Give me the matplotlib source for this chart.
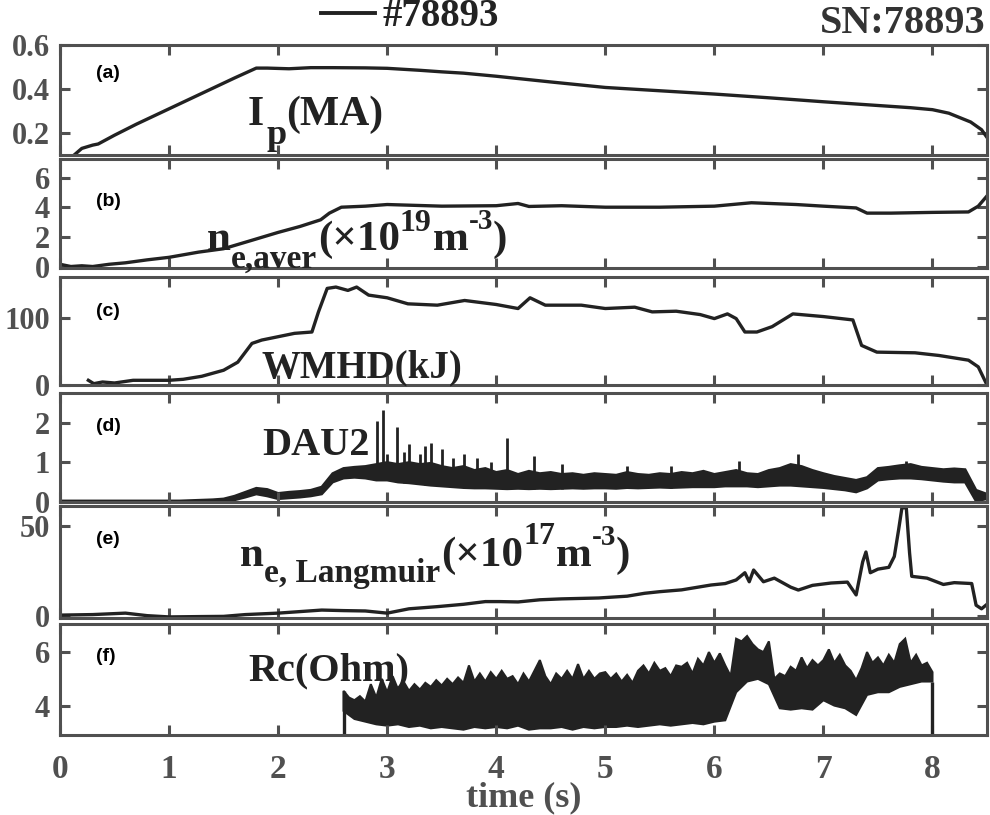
import numpy as np
import matplotlib.pyplot as plt
from matplotlib.lines import Line2D

plt.rcParams['font.family'] = ['Liberation Serif', 'DejaVu Serif']
plt.rcParams['font.weight'] = 'bold'

# (a) plasma current
t_ip = [0.13, 0.2, 0.3, 0.35, 0.5, 0.7, 1.0, 1.3, 1.6, 1.8, 1.9, 2.1, 2.3, 2.5, 2.8, 3.0,
        3.3, 3.5, 3.7, 4.0, 4.5, 5.0, 5.5, 6.0, 6.5, 7.0, 7.5, 7.8, 8.0, 8.15, 8.35, 8.45, 8.5]
ip = [0.10, 0.13, 0.145, 0.15, 0.19, 0.24, 0.31, 0.38, 0.45, 0.495, 0.495, 0.492, 0.497, 0.497,
      0.496, 0.494, 0.485, 0.478, 0.472, 0.458, 0.432, 0.407, 0.392, 0.377, 0.36, 0.342, 0.325,
      0.315, 0.306, 0.29, 0.25, 0.215, 0.18]

# (b) line averaged density
t_ne = [0.0, 0.1, 0.2, 0.3, 0.45, 0.6, 0.8, 1.0, 1.27, 1.5, 1.76, 2.0, 2.2, 2.39, 2.47, 2.58,
        2.8, 3.0, 3.5, 4.0, 4.2, 4.3, 4.6, 5.0, 5.5, 6.0, 6.34, 6.75, 7.0, 7.3, 7.4, 7.62, 8.0,
        8.33, 8.42, 8.5]
ne = [0.15, 0.0, 0.05, 0.0, 0.15, 0.25, 0.45, 0.62, 0.97, 1.2, 1.77, 2.3, 2.7, 3.15, 3.6, 4.0,
      4.07, 4.18, 4.07, 4.1, 4.25, 4.05, 4.1, 4.0, 4.0, 4.07, 4.3, 4.18, 4.07, 3.95, 3.6, 3.6,
      3.65, 3.68, 4.07, 4.76]

# (c) stored energy
t_w = [0.26, 0.31, 0.39, 0.5, 0.67, 1.0, 1.13, 1.3, 1.5, 1.63, 1.76, 1.85, 2.0, 2.15, 2.31, 2.37,
       2.45, 2.53, 2.64, 2.72, 2.83, 3.0, 3.19, 3.46, 3.71, 4.0, 4.2, 4.31, 4.45, 4.78, 5.0, 5.27,
       5.43, 5.65, 5.87, 6.0, 6.12, 6.2, 6.28, 6.39, 6.53, 6.72, 7.0, 7.27, 7.35, 7.49, 7.84, 8.06,
       8.33, 8.42, 8.5]
wmhd = [7, 2, 4.5, 3, 7, 7, 8.5, 13, 22, 34, 62, 67, 72, 77, 79, 109, 144, 146, 141, 146, 134,
        130, 121, 119, 126, 120, 114, 130, 119, 119, 114, 116, 109, 110, 105, 99, 106, 99, 79, 79,
        87, 106, 102, 97, 59, 49, 48, 44, 37, 27, 0]

# (d) DAU2, band envelopes on a 0.1 s grid plus spikes
dau_up = [0.03, 0.03, 0.03, 0.03, 0.03, 0.03, 0.03, 0.03, 0.03, 0.03, 0.03, 0.03, 0.04, 0.05,
          0.06, 0.08, 0.15, 0.25, 0.35, 0.32, 0.22, 0.25, 0.27, 0.3, 0.38, 0.72, 0.85, 0.88, 0.9,
          0.95, 1.0, 0.95, 1.0, 0.95, 0.98, 0.9, 0.85, 0.9, 0.8, 0.85, 0.75, 0.8, 0.7, 0.78, 0.72,
          0.75, 0.7, 0.72, 0.68, 0.72, 0.7, 0.68, 0.75, 0.7, 0.68, 0.72, 0.7, 0.75, 0.72, 0.78,
          0.7, 0.75, 0.8, 0.72, 0.7, 0.8, 0.85, 0.95, 0.9, 0.8, 0.72, 0.65, 0.6, 0.55, 0.62, 0.85,
          0.88, 0.92, 0.95, 0.88, 0.85, 0.82, 0.84, 0.82, 0.3, 0.2]
dau_low = [0.0, 0.0, 0.0, 0.0, 0.0, 0.0, 0.0, 0.0, 0.0, 0.0, 0.0, 0.0, 0.0, 0.0, 0.01, 0.02,
           0.05, 0.12, 0.2, 0.15, 0.08, 0.1, 0.12, 0.15, 0.2, 0.5, 0.6, 0.62, 0.6, 0.55, 0.55,
           0.5, 0.48, 0.45, 0.42, 0.4, 0.38, 0.36, 0.35, 0.35, 0.34, 0.33, 0.34, 0.33, 0.34, 0.33,
           0.34, 0.35, 0.34, 0.35, 0.35, 0.34, 0.36, 0.35, 0.36, 0.37, 0.36, 0.37, 0.38, 0.38,
           0.38, 0.4, 0.4, 0.4, 0.38, 0.4, 0.42, 0.42, 0.4, 0.38, 0.36, 0.33, 0.3, 0.25, 0.35,
           0.55, 0.58, 0.6, 0.6, 0.58, 0.55, 0.52, 0.5, 0.5, 0.02, 0.08]
dau_spike_t = [2.91, 2.96, 3.0, 3.09, 3.15, 3.2, 3.3, 3.35, 3.4, 3.5, 3.6, 3.7, 3.82, 3.95, 4.1,
               4.35, 4.6, 5.2, 5.6, 6.23, 6.77, 7.76]
dau_spike_v = [2.04, 2.33, 1.2, 1.88, 1.25, 1.46, 1.2, 1.42, 1.5, 1.33, 1.1, 1.2, 1.12, 1.0, 1.62,
               1.17, 0.96, 0.92, 0.9, 1.04, 1.2, 1.03]

# (e) Langmuir probe density
t_nl = [0.0, 0.3, 0.6, 0.8, 1.0, 1.3, 1.5, 1.7, 2.0, 2.4, 2.6, 2.8, 3.0, 3.2, 3.46, 3.7, 3.9,
        4.03, 4.2, 4.4, 4.6, 4.94, 5.2, 5.36, 5.5, 5.7, 5.97, 6.1, 6.2, 6.28, 6.32, 6.36, 6.45,
        6.55, 6.7, 6.77, 6.9, 7.07, 7.22, 7.3, 7.36, 7.39, 7.43, 7.5, 7.6, 7.65, 7.69, 7.72, 7.76,
        7.79, 7.81, 7.95, 8.1, 8.2, 8.36, 8.4, 8.45, 8.5]
nl = [0.5, 0.8, 1.6, 0.2, -0.5, -0.3, -0.2, 0.8, 1.6, 3.3, 3.0, 2.8, 1.6, 4.0, 5.2, 6.5, 8.0,
      8.0, 7.8, 9.0, 9.5, 10.0, 11.0, 12.6, 13.5, 14.5, 17.2, 18.0, 20.0, 24.0, 19.0, 25.5, 19.0,
      21.0, 16.0, 14.4, 17.0, 18.3, 18.8, 11.7, 30.0, 35.5, 24.0, 26.0, 27.0, 33.0, 48.0, 60.0,
      60.0, 35.0, 22.0, 21.0, 17.5, 18.5, 18.0, 6.0, 4.0, 6.5]

# (f) Rc, band envelopes: upper on 0.05 s grid, lower on 0.1 s grid
rc_t_on, rc_t_off, rc_floor = 2.6, 8.0, 2.9
rc_up = [4.55, 4.3, 4.2, 4.35, 4.15, 4.8, 4.3, 5.0, 4.5, 5.1, 4.6, 4.9, 4.55, 4.8, 4.6, 4.85,
         4.7, 4.95, 4.75, 5.0, 4.8, 5.05, 4.85, 5.5, 4.9, 5.2, 4.9, 5.25, 5.0, 5.3, 5.0, 5.1, 4.8,
         5.2, 4.9, 5.3, 5.7, 5.1, 4.8, 5.2, 5.0, 5.3, 5.0, 5.55, 5.0, 5.3, 5.0, 5.2, 5.25, 5.0,
         5.2, 4.9, 5.15, 4.85, 5.3, 5.5, 5.2, 5.6, 5.3, 5.4, 5.1, 5.5, 5.45, 5.6, 5.2, 5.75, 5.5,
         6.0, 5.6, 5.95, 5.5, 5.1, 6.5, 6.4, 6.6, 6.3, 6.1, 6.0, 6.4, 5.0, 5.2, 5.1, 5.45, 5.3,
         5.8, 5.4, 5.7, 5.5, 5.7, 6.1, 5.6, 5.9, 5.5, 5.3, 4.95, 5.4, 6.0, 5.6, 5.8, 5.5, 5.9,
         5.6, 6.3, 6.5, 5.6, 5.9, 5.5, 5.6, 5.25]
rc_low = [3.8, 3.5, 3.4, 3.3, 3.25, 3.3, 3.2, 3.25, 3.15, 3.2, 3.15, 3.1, 3.2, 3.15, 3.2, 3.15,
          3.25, 3.1, 3.15, 3.15, 3.2, 3.1, 3.2, 3.15, 3.2, 3.2, 3.25, 3.2, 3.25, 3.3, 3.25, 3.3,
          3.35, 3.3, 3.4, 3.45, 4.5, 4.9, 5.0, 4.8, 3.9, 3.85, 3.9, 3.85, 4.2, 4.0, 3.9, 3.65,
          4.4, 4.5, 4.5, 4.7, 4.8, 4.9, 4.9]

LC = '#222222'
GRAY = '#505050'
W, H = 990, 815

fig = plt.figure(figsize=(W / 100, H / 100), dpi=100)

# axes boxes in pixels: (top, bottom)
boxes = [(45, 155), (159, 268), (277, 385), (393, 502), (506, 618), (624, 735)]
ylims = [(0.1, 0.6), (-0.1, 7.25), (0, 161), (0, 2.75), (-1.1, 61), (2.9, 7.05)]
yticks = [[0.2, 0.4, 0.6], [0, 2, 4, 6], [0, 100], [0, 1, 2], [0, 50], [4, 6]]
yticklabels = [['0.2', '0.4', '0.6'], None, None, None, None, None]

axes = []
for i, (top, bot) in enumerate(boxes):
    ax = fig.add_axes([60 / W, 1 - bot / H, 927 / W, (bot - top) / H])
    ax.set_xlim(0, 8.5)
    ax.set_ylim(*ylims[i])
    ax.set_xticks(range(0, 9))
    ax.set_yticks(yticks[i])
    if yticklabels[i]:
        ax.set_yticklabels(yticklabels[i])
    ax.tick_params(direction='in', length=7, width=2.2, top=True, right=True,
                   colors=GRAY, labelsize=22, pad=7)
    ax.tick_params(axis='x', labelsize=24, pad=14)
    if i < 5:
        ax.tick_params(axis='x', labelbottom=False)
    for s in ax.spines.values():
        s.set_color(GRAY)
        s.set_linewidth(2.2)
    axes.append(ax)

ax1, ax2, ax3, ax4, ax5, ax6 = axes
ax1.plot(t_ip, ip, color=LC, lw=2.4)
ax2.plot(t_ne, ne, color=LC, lw=2.4)
ax3.plot(t_w, wmhd, color=LC, lw=2.4)

t_dau = np.round(np.arange(len(dau_up)) * 0.1, 2)
ax4.fill(np.concatenate([t_dau, t_dau[::-1]]),
         np.concatenate([dau_up, np.array(dau_low)[::-1]]),
         facecolor=LC, edgecolor=LC, lw=1.8)
ax4.vlines(dau_spike_t, np.interp(dau_spike_t, t_dau, dau_low), dau_spike_v, color=LC, lw=2.0)

ax5.plot(t_nl, nl, color=LC, lw=2.4)

t_rc_up = rc_t_on + np.arange(len(rc_up)) * 0.05
t_rc_low = rc_t_on + np.arange(len(rc_low)) * 0.1
ax6.fill(np.concatenate([t_rc_up, t_rc_low[::-1]]),
         np.concatenate([rc_up, np.array(rc_low)[::-1]]),
         facecolor=LC, edgecolor=LC, lw=1.5)
ax6.vlines([rc_t_on, rc_t_off], rc_floor, [rc_up[0], rc_low[-1]], color=LC, lw=2.4)
ax6.set_xlabel('time (s)', fontsize=26, color=GRAY, fontweight='bold', labelpad=-3)

renderer = fig.canvas.get_renderer()


def ftext(x, y, s, size, **kw):
    kw.setdefault('color', LC)
    return fig.text(x / W, 1 - y / H, s, fontsize=size, ha='left', va='baseline', **kw)


def compose(x, pieces):
    # lay pieces left to right: (text, size, baseline y, gap before)
    for s, size, y, gap in pieces:
        x += gap
        t = ftext(x, y, s, size)
        x += t.get_window_extent(renderer).width


# panel letters
for lab, y in zip('abcdef', [78, 206, 316, 431, 544, 661]):
    ftext(96, y, '(%s)' % lab, 14, family='Liberation Sans', fontweight='bold', color='black')

compose(248, [('I', 30, 125, 0), ('p', 26, 144, 2), ('(MA)', 30, 125, 0)])
compose(207, [('n', 31, 250, 0), ('e,aver', 24, 268, 0), ('(\u00d710', 31, 250, 1),
              ('19', 23, 231, 0), ('m', 31, 250, 1), ('-3', 21, 229, 0), (')', 31, 250, 0)])
ftext(262, 377, 'WMHD(kJ)', 28)
ftext(262, 455, 'DAU2', 29)
compose(240, [('n', 31, 566, 0), ('e, Langmuir', 24, 582, 0), ('(\u00d710', 31, 566, 1),
              ('17', 23, 544, 0), ('m', 31, 566, 1), ('-3', 21, 545, 0), (')', 31, 566, 0)])
ftext(248, 680, 'Rc(Ohm)', 29)

# header
fig.legend(handles=[Line2D([], [], color=LC, lw=2.8)], labels=['#78893'],
           loc='center', bbox_to_anchor=(410 / W, 1 - 17 / H), frameon=False,
           handlelength=1.4, handletextpad=0.2, prop={'size': 28, 'weight': 'bold'},
           labelcolor=LC)
fig.text(985 / W, 1 - 33 / H, 'SN:78893', fontsize=29, ha='right', va='baseline', color='#333333')

fig.savefig('out.png', dpi=100)
